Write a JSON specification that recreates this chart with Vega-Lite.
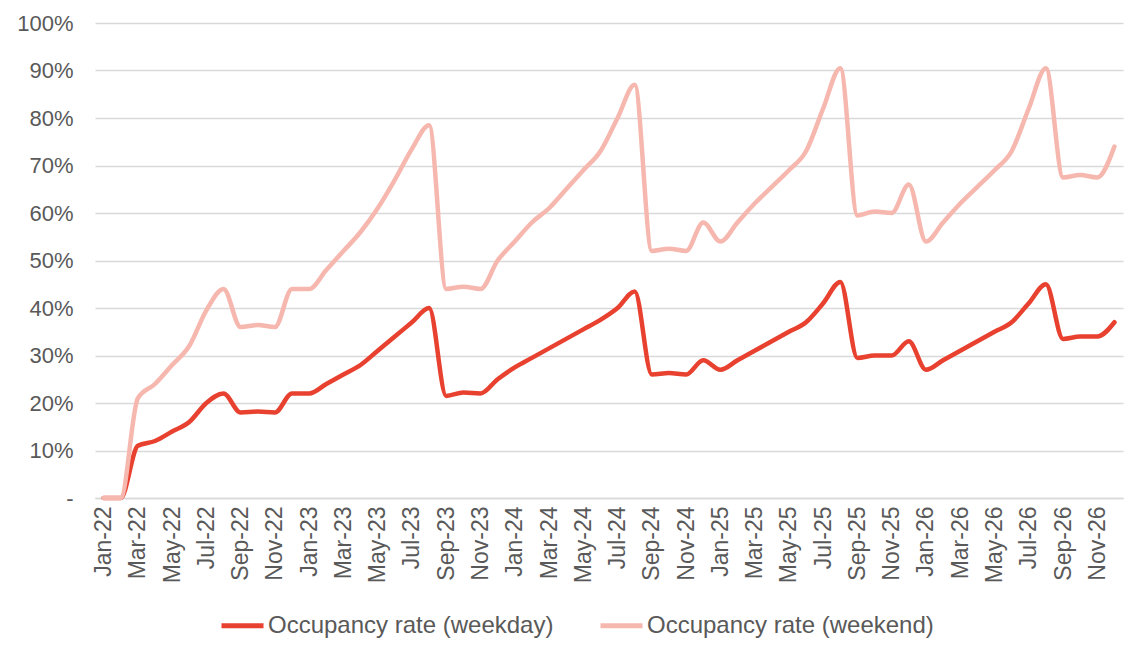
{
  "$schema": "https://vega.github.io/schema/vega-lite/v6.json",
  "width": 1028,
  "height": 475,
  "autosize": "none",
  "padding": {"left": 95, "top": 23, "right": 23, "bottom": 158},
  "background": "white",
  "config": {
    "view": {"stroke": null},
    "font": "Liberation Sans",
    "axis": {"labelFont": "Liberation Sans", "labelColor": "#595959"},
    "legend": {"labelFont": "Liberation Sans", "labelColor": "#595959", "labelFontSize": 24, "labelLimit": 0}
  },
  "data": {
    "values": [
      {"month": "Jan-22", "weekday": 0, "weekend": 0},
      {"month": "Feb-22", "weekday": 0, "weekend": 0},
      {"month": "Mar-22", "weekday": 0.11, "weekend": 0.21},
      {"month": "Apr-22", "weekday": 0.12, "weekend": 0.24},
      {"month": "May-22", "weekday": 0.14, "weekend": 0.28},
      {"month": "Jun-22", "weekday": 0.16, "weekend": 0.32},
      {"month": "Jul-22", "weekday": 0.20, "weekend": 0.395},
      {"month": "Aug-22", "weekday": 0.22, "weekend": 0.44},
      {"month": "Sep-22", "weekday": 0.18, "weekend": 0.36},
      {"month": "Oct-22", "weekday": 0.182, "weekend": 0.364},
      {"month": "Nov-22", "weekday": 0.18, "weekend": 0.36},
      {"month": "Dec-22", "weekday": 0.22, "weekend": 0.44},
      {"month": "Jan-23", "weekday": 0.22, "weekend": 0.44},
      {"month": "Feb-23", "weekday": 0.24, "weekend": 0.48},
      {"month": "Mar-23", "weekday": 0.26, "weekend": 0.52},
      {"month": "Apr-23", "weekday": 0.28, "weekend": 0.56},
      {"month": "May-23", "weekday": 0.31, "weekend": 0.61},
      {"month": "Jun-23", "weekday": 0.34, "weekend": 0.67},
      {"month": "Jul-23", "weekday": 0.37, "weekend": 0.735},
      {"month": "Aug-23", "weekday": 0.40, "weekend": 0.785},
      {"month": "Sep-23", "weekday": 0.215, "weekend": 0.44},
      {"month": "Oct-23", "weekday": 0.222, "weekend": 0.445},
      {"month": "Nov-23", "weekday": 0.22, "weekend": 0.44},
      {"month": "Dec-23", "weekday": 0.25, "weekend": 0.50},
      {"month": "Jan-24", "weekday": 0.275, "weekend": 0.54},
      {"month": "Feb-24", "weekday": 0.295, "weekend": 0.58},
      {"month": "Mar-24", "weekday": 0.315, "weekend": 0.61},
      {"month": "Apr-24", "weekday": 0.335, "weekend": 0.65},
      {"month": "May-24", "weekday": 0.355, "weekend": 0.69},
      {"month": "Jun-24", "weekday": 0.375, "weekend": 0.73},
      {"month": "Jul-24", "weekday": 0.40, "weekend": 0.80},
      {"month": "Aug-24", "weekday": 0.435, "weekend": 0.87},
      {"month": "Sep-24", "weekday": 0.26, "weekend": 0.52},
      {"month": "Oct-24", "weekday": 0.263, "weekend": 0.525},
      {"month": "Nov-24", "weekday": 0.26, "weekend": 0.52},
      {"month": "Dec-24", "weekday": 0.29, "weekend": 0.58},
      {"month": "Jan-25", "weekday": 0.27, "weekend": 0.54},
      {"month": "Feb-25", "weekday": 0.29, "weekend": 0.58},
      {"month": "Mar-25", "weekday": 0.31, "weekend": 0.62},
      {"month": "Apr-25", "weekday": 0.33, "weekend": 0.655},
      {"month": "May-25", "weekday": 0.35, "weekend": 0.69},
      {"month": "Jun-25", "weekday": 0.37, "weekend": 0.73},
      {"month": "Jul-25", "weekday": 0.41, "weekend": 0.82},
      {"month": "Aug-25", "weekday": 0.455, "weekend": 0.905},
      {"month": "Sep-25", "weekday": 0.295, "weekend": 0.595},
      {"month": "Oct-25", "weekday": 0.30, "weekend": 0.603},
      {"month": "Nov-25", "weekday": 0.30, "weekend": 0.60},
      {"month": "Dec-25", "weekday": 0.33, "weekend": 0.66},
      {"month": "Jan-26", "weekday": 0.27, "weekend": 0.54},
      {"month": "Feb-26", "weekday": 0.29, "weekend": 0.58},
      {"month": "Mar-26", "weekday": 0.31, "weekend": 0.62},
      {"month": "Apr-26", "weekday": 0.33, "weekend": 0.655},
      {"month": "May-26", "weekday": 0.35, "weekend": 0.69},
      {"month": "Jun-26", "weekday": 0.37, "weekend": 0.73},
      {"month": "Jul-26", "weekday": 0.41, "weekend": 0.82},
      {"month": "Aug-26", "weekday": 0.45, "weekend": 0.905},
      {"month": "Sep-26", "weekday": 0.335, "weekend": 0.675},
      {"month": "Oct-26", "weekday": 0.34, "weekend": 0.68},
      {"month": "Nov-26", "weekday": 0.34, "weekend": 0.675},
      {"month": "Dec-26", "weekday": 0.37, "weekend": 0.74}
    ]
  },
  "transform": [
    {"fold": ["weekday", "weekend"], "as": ["series", "rate"]}
  ],
  "mark": {"type": "line", "interpolate": "monotone", "strokeWidth": 4.5, "strokeCap": "round"},
  "encoding": {
    "x": {
      "field": "month",
      "type": "ordinal",
      "sort": null,
      "scale": {"type": "point", "padding": 0.5},
      "axis": {
        "title": null,
        "labelAngle": -90,
        "labelFontSize": 23,
        "ticks": false,
        "labelPadding": 8,
        "domain": true,
        "domainColor": "#d9d9d9",
        "domainWidth": 1.5,
        "grid": false,
        "values": ["Jan-22","Mar-22","May-22","Jul-22","Sep-22","Nov-22","Jan-23","Mar-23","May-23","Jul-23","Sep-23","Nov-23","Jan-24","Mar-24","May-24","Jul-24","Sep-24","Nov-24","Jan-25","Mar-25","May-25","Jul-25","Sep-25","Nov-25","Jan-26","Mar-26","May-26","Jul-26","Sep-26","Nov-26"]
      }
    },
    "y": {
      "field": "rate",
      "type": "quantitative",
      "scale": {"domain": [0, 1], "nice": false},
      "axis": {
        "title": null,
        "values": [0, 0.1, 0.2, 0.3, 0.4, 0.5, 0.6, 0.7, 0.8, 0.9, 1],
        "labelExpr": "datum.value == 0 ? '-' : format(datum.value, '.0%')",
        "labelFontSize": 22,
        "ticks": false,
        "domain": false,
        "grid": true,
        "gridColor": "#d9d9d9",
        "gridWidth": 1.5,
        "labelPadding": 22
      }
    },
    "color": {
      "field": "series",
      "type": "nominal",
      "scale": {"domain": ["weekday", "weekend"], "range": ["#E8412F", "#F6B7AF"]},
      "legend": {
        "title": null,
        "orient": "none",
        "direction": "horizontal",
        "legendX": 124,
        "legendY": 579,
        "symbolType": "stroke",
        "symbolSize": 1764,
        "symbolStrokeWidth": 5,
        "labelOffset": 2,
        "columnPadding": 36,
        "labelExpr": "'Occupancy rate (' + datum.label + ')'"
      }
    }
  }
}
